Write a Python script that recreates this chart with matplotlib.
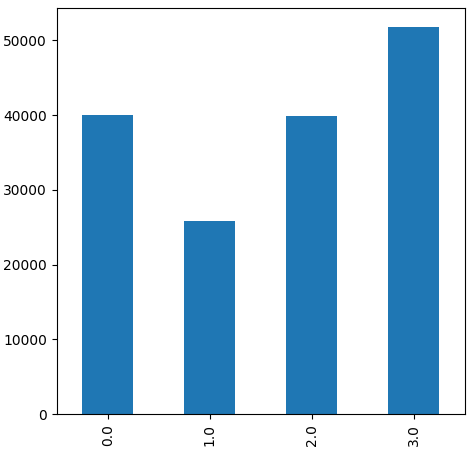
import pandas as pd
import matplotlib
matplotlib.use("Agg")
import matplotlib.pyplot as plt

# bar values
categories = [0.0, 1.0, 2.0, 3.0]
values = [39960, 25850, 39830, 51740]

s = pd.Series(values, index=categories)

fig = plt.figure(figsize=(4.74, 4.51), dpi=100)
ax = fig.add_axes([0.120, 0.082, 0.861, 0.900])
s.plot(kind="bar", ax=ax, color="#1f77b4")
fig.savefig("out.png", dpi=100)
